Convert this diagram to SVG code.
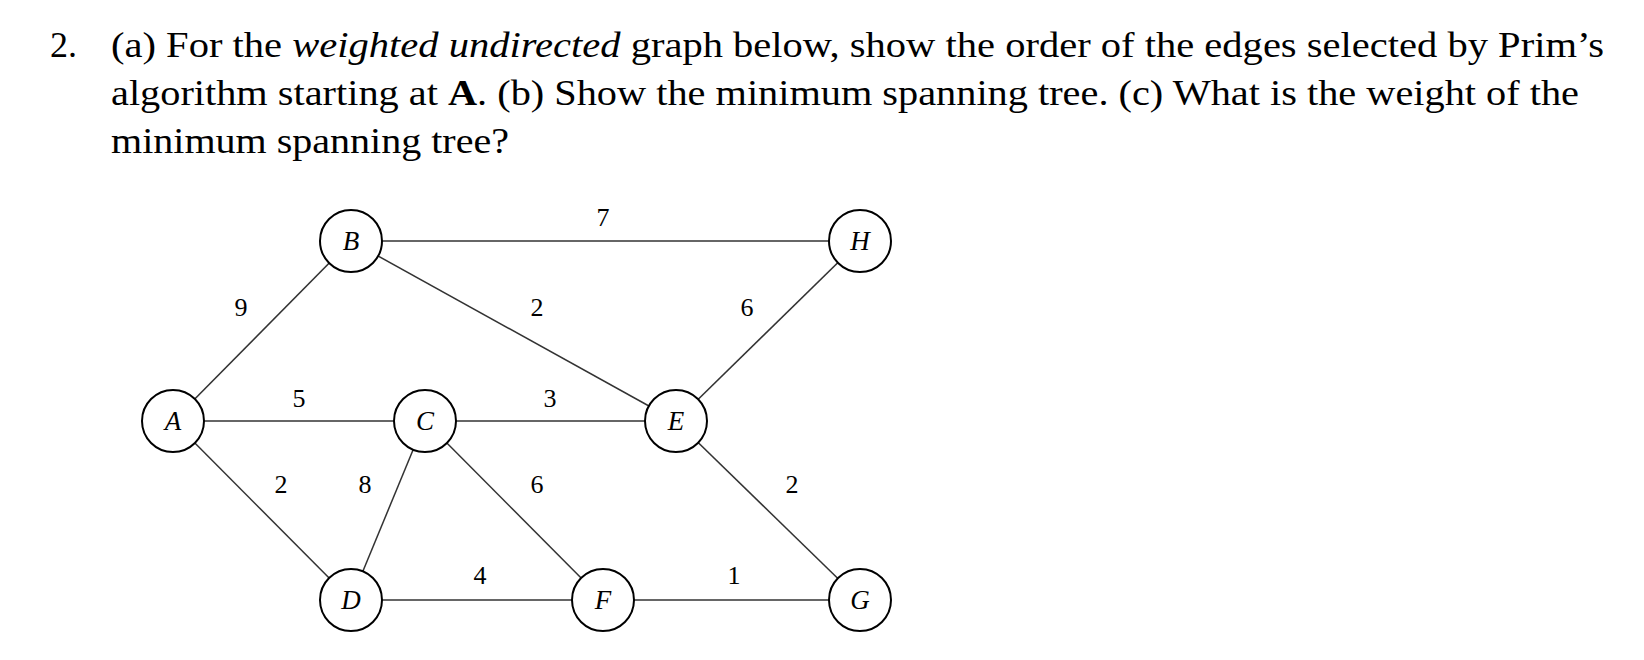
<svg xmlns="http://www.w3.org/2000/svg" width="1644" height="660" viewBox="0 0 1644 660">
<style>
.t{font-family:"Liberation Serif","Times New Roman",serif;font-size:36px;fill:#000}
.n circle{fill:#fff;stroke:#000;stroke-width:2}
.n text{font-family:"Liberation Serif",serif;font-style:italic;font-size:27px;text-anchor:middle;dominant-baseline:central}
.w{font-family:"Liberation Serif",serif;font-size:26px;text-anchor:middle;dominant-baseline:central}
#edges line{stroke:#333;stroke-width:1.5}
</style>
<rect width="1644" height="660" fill="#fff"/>
<text class="t" x="50" y="57">2.</text>
<text class="t" x="111" y="57" textLength="1493" lengthAdjust="spacingAndGlyphs">(a) For the <tspan font-style="italic">weighted undirected</tspan> graph below, show the order of the edges selected by Prim’s</text>
<text class="t" x="111" y="105" textLength="1468" lengthAdjust="spacingAndGlyphs">algorithm starting at <tspan font-weight="bold">A</tspan>. (b) Show the minimum spanning tree. (c) What is the weight of the</text>
<text class="t" x="111" y="153" textLength="398" lengthAdjust="spacingAndGlyphs">minimum spanning tree?</text>
<g id="edges">
<line x1="173" y1="421" x2="351" y2="241"/>
<line x1="351" y1="241" x2="860" y2="241"/>
<line x1="351" y1="241" x2="676" y2="421"/>
<line x1="676" y1="421" x2="860" y2="241"/>
<line x1="173" y1="421" x2="425" y2="421"/>
<line x1="425" y1="421" x2="676" y2="421"/>
<line x1="173" y1="421" x2="351" y2="600"/>
<line x1="425" y1="421" x2="351" y2="600"/>
<line x1="425" y1="421" x2="603" y2="600"/>
<line x1="676" y1="421" x2="860" y2="600"/>
<line x1="351" y1="600" x2="603" y2="600"/>
<line x1="603" y1="600" x2="860" y2="600"/>
</g>
<g id="weights">
<text class="w" x="241" y="307">9</text>
<text class="w" x="603" y="217">7</text>
<text class="w" x="537" y="307">2</text>
<text class="w" x="747" y="307">6</text>
<text class="w" x="299" y="398">5</text>
<text class="w" x="550" y="398">3</text>
<text class="w" x="281" y="484">2</text>
<text class="w" x="365" y="484">8</text>
<text class="w" x="537" y="484">6</text>
<text class="w" x="792" y="484">2</text>
<text class="w" x="480" y="575">4</text>
<text class="w" x="734" y="575">1</text>
</g>
<g id="A" class="n"><circle cx="173" cy="421" r="31"/><text x="173" y="421">A</text></g>
<g id="B" class="n"><circle cx="351" cy="241" r="31"/><text x="351" y="241">B</text></g>
<g id="C" class="n"><circle cx="425" cy="421" r="31"/><text x="425" y="421">C</text></g>
<g id="E" class="n"><circle cx="676" cy="421" r="31"/><text x="676" y="421">E</text></g>
<g id="H" class="n"><circle cx="860" cy="241" r="31"/><text x="860" y="241">H</text></g>
<g id="D" class="n"><circle cx="351" cy="600" r="31"/><text x="351" y="600">D</text></g>
<g id="F" class="n"><circle cx="603" cy="600" r="31"/><text x="603" y="600">F</text></g>
<g id="G" class="n"><circle cx="860" cy="600" r="31"/><text x="860" y="600">G</text></g>
</svg>
